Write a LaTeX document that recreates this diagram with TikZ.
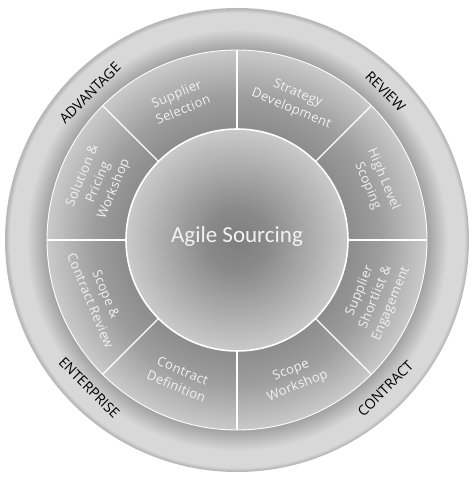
\documentclass[tikz,border=0pt]{standalone}
\usepackage{fontspec}
\setmainfont{Carlito}
\newfontfamily\segfont{Open Sans}
\newfontfamily\segwidefont[LetterSpace=2.5]{Open Sans}
\usetikzlibrary{calc}

\definecolor{ringface}{HTML}{D8D8D8}
\definecolor{ringrim}{HTML}{B8B8B8}
\definecolor{bandlo}{HTML}{A2A2A2}
\definecolor{seglo}{HTML}{8C8C8C}
\definecolor{segmid}{HTML}{9E9E9E}
\definecolor{seghi}{HTML}{CACACA}
\definecolor{hublo}{HTML}{7E7E7E}
\definecolor{hubhi}{HTML}{CACACA}
\definecolor{labeltext}{HTML}{F2F2F2}

% shadings: 25bp = rim of the shaded circle
\pgfdeclareradialshading{bandshade}{\pgfpoint{0bp}{0bp}}{color(0bp)=(bandlo); color(20.6bp)=(bandlo); color(22.8bp)=(ringface); color(24.6bp)=(ringface); color(25bp)=(ringrim); color(50bp)=(ringrim)}
\pgfdeclareradialshading{segshade}{\pgfpoint{0bp}{0bp}}{color(0bp)=(seglo); color(14.6bp)=(seglo); color(19bp)=(segmid); color(25bp)=(seghi); color(50bp)=(seghi)}
\pgfdeclareradialshading{hubshade}{\pgfpoint{0bp}{0bp}}{color(0bp)=(hublo); color(7bp)=(hublo!85!hubhi); color(25bp)=(hubhi); color(50bp)=(hubhi)}

\tikzset{
  seglabel/.style={text=labeltext, align=center, inner sep=0pt,
    font=\segwidefont\fontsize{13}{17}\selectfont},
  ringlabel/.style={text=black, inner sep=0pt,
    font=\segfont\fontsize{14}{16}\selectfont},
  hublabel/.style={text=labeltext, inner sep=0pt,
    font=\fontsize{23}{26}\selectfont},
  divider/.style={white, line width=1.2pt},
}

\begin{document}
\begin{tikzpicture}[x=1pt, y=1pt]
  \fill[white] (-237,-241) rectangle (237,240);
  \useasboundingbox (-237,-241) rectangle (237,240);

  % outer ring and the segments
  \fill[ringrim] (0,0) circle (232);
  \shade[shading=bandshade] (0,0) circle (231);
  \shade[shading=segshade] (0,0) circle (190);
  \draw[white, line width=0.9pt] (0,0) circle (190);
  \foreach \a in {0,45,...,315}
    \draw[divider] (\a:111) -- (\a:190);

  % hub
  \shade[shading=hubshade] (0,0) circle (111);
  \draw[white, line width=1.6pt] (0,0) circle (111);
  \node[hublabel] (agile) at (0,4) {Agile Sourcing};

  \node[seglabel, rotate=22.5] (selection) at (112.5:150) {Supplier\\Selection};
  \node[seglabel, rotate=-22.5] (strategy) at (67.5:150) {Strategy\\Development};
  \node[seglabel, rotate=-67.5] (scoping) at (22.5:150) {High Level\\Scoping};
  \node[seglabel, rotate=67.5] (shortlist) at (-22.5:150) {Supplier\\Shortlist \&\\Engagement};
  \node[seglabel, rotate=22.5] (workshop) at (-67.5:150) {Scope\\Workshop};
  \node[seglabel, rotate=-22.5] (definition) at (-112.5:150) {Contract\\Definition};
  \node[seglabel, rotate=-67.5] (review) at (-157.5:150) {Scope \&\\Contract Review};
  \node[seglabel, rotate=67.5] (pricing) at (157.5:150) {Solution \&\\Pricing\\Workshop};

  \node[ringlabel, rotate=45] (advantage) at (135:208) {ADVANTAGE};
  \node[ringlabel, rotate=-45] (reviewtag) at (45:210) {REVIEW};
  \node[ringlabel, rotate=-45] (enterprise) at (-135:209) {ENTERPRISE};
  \node[ringlabel, rotate=45] (contract) at (-45:210) {CONTRACT};
\end{tikzpicture}
\end{document}
